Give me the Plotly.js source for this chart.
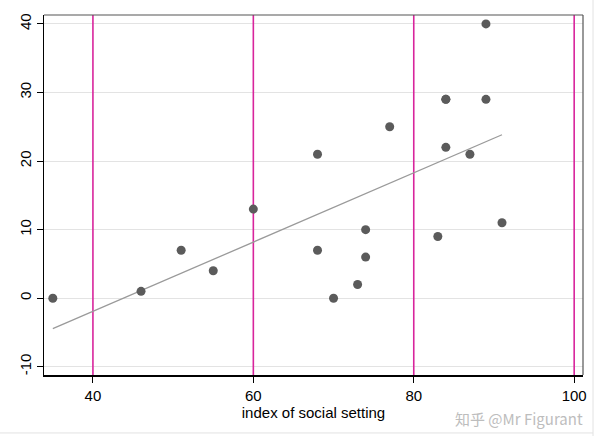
<!DOCTYPE html>
<html>
<head>
<meta charset="utf-8">
<script src="https://cdn.plot.ly/plotly-3.0.1.min.js"></script>
<style>html,body{margin:0;padding:0;background:#fff;}#chart{width:600px;height:436px;}</style>
</head>
<body>
<div id="chart"></div>
<script>
// index of social setting vs. change
var setting = [46, 74, 89, 77, 84, 89, 68, 70, 60, 55, 35, 51, 87, 83, 68, 84, 74, 73, 84, 91];
var change  = [1, 10, 29, 25, 29, 40, 21, 0, 13, 4, 0, 7, 21, 9, 7, 22, 6, 2, 29, 11];
// fitted line endpoints
var fitX = [35, 91];
var fitY = [-4.45, 23.84];
// reference lines
var vlines = [40, 60, 80, 100];
var xTicks = [40, 60, 80, 100];
var yTicks = [-10, 0, 10, 20, 30, 40];

var traces = [];
vlines.forEach(function (v) {
  traces.push({
    x: [v, v], y: [-11.2, 41.3], mode: 'lines', type: 'scatter',
    line: {color: '#d8249c', width: 1.6}, hoverinfo: 'skip', showlegend: false
  });
});
traces.push({
  x: fitX, y: fitY, mode: 'lines', type: 'scatter',
  line: {color: '#9a9a9a', width: 1.3}, showlegend: false
});
traces.push({
  x: setting, y: change, mode: 'markers', type: 'scatter',
  marker: {color: '#5b5b5b', size: 9}, showlegend: false
});

var layout = {
  width: 600, height: 436,
  margin: {l: 44, r: 17, t: 15, b: 61},
  paper_bgcolor: '#ffffff', plot_bgcolor: '#ffffff',
  font: {family: 'Liberation Sans, Arial, sans-serif', size: 15, color: '#000'},
  xaxis: {
    range: [33.9, 101.1], tickvals: xTicks, ticktext: xTicks.map(String),
    showgrid: false, zeroline: false, ticks: 'outside', ticklen: 6, tickcolor: '#000',
    showline: true, linecolor: '#000', linewidth: 1.5, mirror: false,
    title: {text: 'index of social setting', font: {size: 15}, standoff: 2},
    tickfont: {size: 15}
  },
  yaxis: {
    range: [-11.2, 41.3], tickvals: yTicks, ticktext: yTicks.map(String),
    showgrid: true, gridcolor: '#e3e3e3', gridwidth: 1, zeroline: false,
    ticks: 'outside', ticklen: 6, tickcolor: '#000', tickangle: -90,
    showline: true, linecolor: '#000', linewidth: 1.5,
    tickfont: {size: 15}
  },
  shapes: [
    {type: 'line', xref: 'paper', yref: 'paper', x0: 0, x1: 1, y0: 1, y1: 1, line: {color: '#555', width: 1.2}},
    {type: 'line', xref: 'paper', yref: 'paper', x0: 1, x1: 1, y0: 0, y1: 1, line: {color: '#555', width: 1.2}},
    {type: 'line', xref: 'paper', yref: 'paper', x0: 1.0186, x1: 1.0186, y0: -0.2, y1: 1.05, line: {color: '#e2e2e2', width: 1}},
    {type: 'line', xref: 'paper', yref: 'paper', x0: -0.1, x1: 1.0186, y0: -0.161, y1: -0.161, line: {color: '#e2e2e2', width: 1}}
  ],
  annotations: [{
    text: '知乎 @Mr Figurant', xref: 'paper', yref: 'paper', x: 1.003, y: -0.122,
    xanchor: 'right', yanchor: 'middle', showarrow: false,
    font: {family: 'Noto Sans CJK SC, Noto Sans, sans-serif', size: 15, color: '#bdbdbd'}
  }]
};

Plotly.newPlot('chart', traces, layout, {displayModeBar: false, staticPlot: true});
</script>
</body>
</html>
